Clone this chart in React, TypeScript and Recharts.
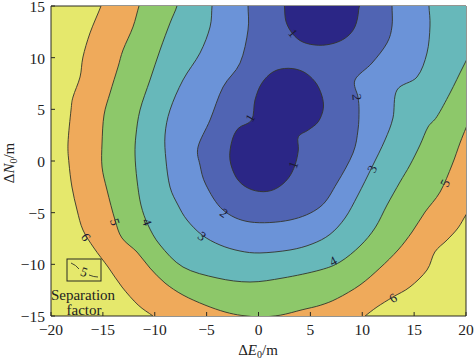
import { ScatterChart, Scatter, XAxis, YAxis, CartesianGrid } from "recharts";

type Pt = { x: number; y: number };

const X_TICKS = [-20, -15, -10, -5, 0, 5, 10, 15, 20];
const Y_TICKS = [-15, -10, -5, 0, 5, 10, 15];

// contour boundaries, in metres (points past the frame close the shapes)
const CONTOUR_6 = [
  [-14.2, 18], [-14.7, 16.5], [-15.18, 15], [-16.24, 12.39], [-16.92, 10.06], [-17.2, 8.13], [-17.88, 6.19],
  [-18.07, 4.94], [-18.36, 1.74], [-18.27, -0.19], [-17.98, -2.52], [-17.49, -4.74], [-16.92, -6.68],
  [-15.86, -8.42], [-14.5, -10.26], [-13.16, -12.19], [-11.6, -13.94], [-10.17, -15], [-9.0, -15.9],
  [0, -17.5], [9.1, -15.9], [10.27, -15], [11.42, -14.13], [12.96, -13.16], [14.6, -12.19],
  [16.24, -10.55], [17.0, -8.8], [18.17, -7.65], [19.23, -6.48], [20, -5.2], [20.8, -4.0], [23, 0],
  [23, 19], [0, 19.5],
];
const CONTOUR_5 = [
  [-10.6, 18], [-11.0, 16.5], [-11.52, 15], [-12.1, 12.97], [-13.06, 10.74], [-13.54, 9.1], [-14.31, 6.58],
  [-14.89, 4.45], [-15.08, 1.74], [-15.08, -0.58], [-14.6, -2.81], [-13.83, -5.71], [-13.16, -7.45],
  [-11.71, -8.81], [-10.46, -10.36], [-9.01, -11.81], [-7.28, -12.97], [-5.16, -13.94], [-3.23, -14.61],
  [-1.6, -14.95], [0.2, -15.08], [2.1, -14.92], [4.2, -14.4], [6.0, -13.95], [7.6, -13.3], [9.78, -12.0],
  [11.7, -10.36], [13.45, -8.61], [14.8, -6.87], [16.05, -4.94], [17.5, -3.0], [18.65, -0.39],
  [19.42, 1.74], [20.0, 3.2], [20.6, 4.6], [22, 7], [22, 19], [0, 19.5],
];
const CONTOUR_4 = [
  [-7.3, 18], [-7.6, 16.5], [-7.86, 15], [-8.53, 13.35], [-9.49, 10.74], [-10.46, 7.84], [-11.42, 4.94],
  [-11.81, 2.52], [-11.9, 0.58], [-11.71, -1.84], [-11.33, -4.26], [-10.65, -6.19], [-9.49, -8.13],
  [-7.28, -10.26], [-4.0, -11.32], [-0.82, -11.71], [2.36, -11.32], [5.93, -10.55], [7.86, -9.77],
  [9.78, -8.23], [11.23, -6.48], [12.39, -4.26], [13.64, -2.03], [14.6, -0.39], [15.57, 1.55],
  [16.34, 3.29], [17.2, 4.3], [18.46, 6.58], [19.71, 9.1], [20.6, 10.8], [22, 13], [22, 19], [5, 19.5],
];
const CONTOUR_3 = [
  [-4.2, 18], [-4.3, 16.5], [-4.48, 15], [-4.67, 12.97], [-5.64, 10.45], [-7.28, 7.84], [-8.53, 4.94],
  [-9.01, 2.52], [-8.92, 0.1], [-8.53, -2.52], [-7.76, -4.26], [-6.89, -5.71], [-5.45, -7.16],
  [-3.71, -8.13], [-1.78, -8.71], [0.14, -8.9], [3.04, -8.61], [5.16, -8.03], [6.89, -7.1],
  [8.34, -5.52], [9.59, -3.29], [10.94, -0.58], [12.19, 2.03], [12.96, 4.16], [13.35, 6.87],
  [15.28, 8.13], [16.24, 10.45], [16.53, 13.06], [16.43, 15], [16.4, 16.5], [16.4, 18], [6, 19],
];
const CONTOUR_2 = [
  [-1.0, 18], [-1.0, 16.5], [-1.01, 15], [-1.01, 12.68], [-1.78, 9.48], [-3.42, 7.16], [-4.67, 3.97],
  [-5.83, 1.35], [-5.64, -0.39], [-5.06, -2.32], [-3.42, -4.74], [-0.82, -5.9], [3.04, -5.71],
  [5.93, -4.45], [7.57, -2.13], [9.11, 0.77], [9.59, 3.0], [9.69, 4.94], [9.59, 6.19], [9.3, 7.84],
  [10.94, 9.48], [12.39, 11.42], [12.87, 13.06], [12.87, 15], [12.87, 16.5], [12.9, 18], [6, 19],
];
const CONTOUR_1_TOP = [
  [2.4, 16.5], [2.5, 15], [2.65, 13.5], [3.3, 12.3], [4.3, 11.5], [5.8, 11.2], [7.3, 11.4],
  [8.5, 12.0], [9.3, 13.0], [9.65, 14.6], [9.6, 16.5], [6, 18.5],
];
const CONTOUR_1_LOW = [
  [-0.66, 3.97], [-0.34, 5.9], [0.31, 7.52], [1.43, 8.64], [2.87, 8.97], [4.32, 8.64], [5.45, 7.67],
  [6.09, 6.39], [6.25, 5.1], [5.76, 3.8], [4.8, 3.0], [3.84, 2.35], [3.84, 1.06], [3.52, -0.39],
  [2.87, -1.67], [1.75, -2.64], [0.46, -2.97], [-0.98, -2.64], [-2.1, -1.67], [-2.75, 0.1],
  [-2.58, 1.87], [-1.95, 3.16],
];

const LABEL_TEXT = ["1", "1", "1", "2", "2", "3", "3", "4", "4", "5", "5", "6", "6"];
const LABEL_X = [3.33, -0.82, 3.33, -3.33, 9.49, -5.45, 10.94, -10.75, 7.18, -13.83, 17.98, -16.63, 12.96];
const LABEL_Y = [12.39, 4.16, -0.39, -5.03, 6.19, -7.26, -0.77, -5.9, -9.68, -5.9, -2.13, -7.36, -13.26];
const LABEL_ANGLE = [51, -59, -70, 35, 85, 37, -65, 70, -28, 72, -63, 58, -31];

const BACKGROUND = "#E5E86C";
const LEVELS = [
  { name: "6", data: CONTOUR_6, fill: "#EFAA5B" },
  { name: "5", data: CONTOUR_5, fill: "#8DC86A" },
  { name: "4", data: CONTOUR_4, fill: "#67B8BA" },
  { name: "3", data: CONTOUR_3, fill: "#6B93D8" },
  { name: "2", data: CONTOUR_2, fill: "#5064B3" },
  { name: "1a", data: CONTOUR_1_TOP, fill: "#2B2686" },
  { name: "1b", data: CONTOUR_1_LOW, fill: "#2B2686" },
];

const AXIS = "#2a2a22";
const LINE = "#33362a";
const SERIF = "'Liberation Serif', 'Times New Roman', serif";

const toPts = (arr: number[][]): Pt[] => arr.map(([x, y]) => ({ x, y }));
const labels = LABEL_TEXT.map((text, i) => ({ text, x: LABEL_X[i], y: LABEL_Y[i], angle: LABEL_ANGLE[i] }));
const fmt = (v: number) => (v < 0 ? `\u2212${-v}` : `${v}`);

// smooth closed curve through the projected points
function closedPath(pts: Pt[]) {
  const n = pts.length;
  if (!n) return "";
  let d = `M${pts[0].x},${pts[0].y}`;
  for (let i = 0; i < n; i++) {
    const p0 = pts[(i + n - 1) % n];
    const p1 = pts[i];
    const p2 = pts[(i + 1) % n];
    const p3 = pts[(i + 2) % n];
    d += `C${p1.x + (p2.x - p0.x) / 6},${p1.y + (p2.y - p0.y) / 6} ${p2.x - (p3.x - p1.x) / 6},${p2.y - (p3.y - p1.y) / 6} ${p2.x},${p2.y}`;
  }
  return d + "Z";
}

const regionLine = (fill: string) => (props: any) => (
  <path d={closedPath(props.points)} fill={fill} stroke={LINE} strokeWidth={0.9} />
);

function XTick({ x, y, payload }: any) {
  return (
    <g>
      <line x1={x} x2={x} y1={y} y2={y - 4} stroke={AXIS} />
      <text x={x} y={y + 19} textAnchor="middle" fontFamily={SERIF} fontSize={15.5} fill="#222">
        {fmt(payload.value)}
      </text>
    </g>
  );
}

function YTick({ x, y, payload }: any) {
  return (
    <g>
      <line x1={x} x2={x + 4} y1={y} y2={y} stroke={AXIS} />
      <text x={x - 6} y={y + 6} textAnchor="end" fontFamily={SERIF} fontSize={15.5} fill="#222">
        {fmt(payload.value)}
      </text>
    </g>
  );
}

function LabelMark(p: any) {
  const { cx, cy, payload } = p;
  return (
    <text
      x={cx}
      y={cy}
      transform={`rotate(${payload.angle} ${cx} ${cy})`}
      textAnchor="middle"
      dominantBaseline="central"
      fontFamily={SERIF}
      fontSize={13}
      fill="#1b1b35"
    >
      {payload.text}
    </text>
  );
}

export default function App() {
  return (
    <div style={{ position: "absolute", left: 0, top: 0, width: 474, height: 361, background: "#fff" }}>
      <ScatterChart width={474} height={361} margin={{ top: 5, right: 7, bottom: 15, left: 8 }}>
        <CartesianGrid fill={BACKGROUND} horizontal={false} vertical={false} />
        <XAxis
          dataKey="x"
          type="number"
          domain={[-20, 20]}
          ticks={X_TICKS}
          interval={0}
          allowDataOverflow
          height={30}
          tickSize={0}
          tickMargin={0}
          tickLine={false}
          tick={<XTick />}
          axisLine={{ stroke: AXIS }}
        />
        <YAxis
          dataKey="y"
          type="number"
          domain={[-15, 15]}
          ticks={Y_TICKS}
          interval={0}
          allowDataOverflow
          width={43}
          tickSize={0}
          tickMargin={0}
          tickLine={false}
          tick={<YTick />}
          axisLine={{ stroke: AXIS }}
        />
        <XAxis
          xAxisId="top"
          orientation="top"
          type="number"
          domain={[-20, 20]}
          ticks={[-20, 20]}
          height={1}
          tick={false}
          tickLine={false}
          axisLine={{ stroke: AXIS }}
        />
        <YAxis
          yAxisId="right"
          orientation="right"
          type="number"
          domain={[-15, 15]}
          ticks={[-15, 15]}
          width={1}
          tick={false}
          tickLine={false}
          axisLine={{ stroke: AXIS }}
        />
        {LEVELS.map((lv) => (
          <Scatter
            key={lv.name}
            name={lv.name}
            data={toPts(lv.data)}
            fill={lv.fill}
            line={regionLine(lv.fill)}
            shape={() => <g />}
            isAnimationActive={false}
          />
        ))}
        <Scatter name="labels" data={labels} shape={<LabelMark />} isAnimationActive={false} />
      </ScatterChart>
      <svg
        width={474}
        height={361}
        style={{ position: "absolute", left: 0, top: 0, pointerEvents: "none" }}
        fontFamily={SERIF}
        fill="#222"
      >
        <rect x={67} y={259} width={34} height={22} fill="none" stroke={AXIS} strokeWidth={1} />
        <path d="M71,263 Q76,265 79,269" fill="none" stroke={LINE} strokeWidth={0.9} />
        <path d="M89,275 Q94,277 98,277" fill="none" stroke={LINE} strokeWidth={0.9} />
        <text x={84} y={272} fontSize={13} textAnchor="middle" dominantBaseline="central" transform="rotate(20 84 272)">
          5
        </text>
        <text x={83} y={300} fontSize={15} textAnchor="middle">
          Separation
        </text>
        <text x={84} y={315} fontSize={15} textAnchor="middle">
          factor
        </text>
        <text x={258} y={355} fontSize={15} textAnchor="middle">
          Δ<tspan fontStyle="italic">E</tspan>
          <tspan fontSize={10} dy={3}>0</tspan>
          <tspan dy={-3}>/m</tspan>
        </text>
        <text x={14} y={163} fontSize={15} textAnchor="middle" transform="rotate(-90 14 163)">
          Δ<tspan fontStyle="italic">N</tspan>
          <tspan fontSize={10} dy={3}>0</tspan>
          <tspan dy={-3}>/m</tspan>
        </text>
      </svg>
    </div>
  );
}
